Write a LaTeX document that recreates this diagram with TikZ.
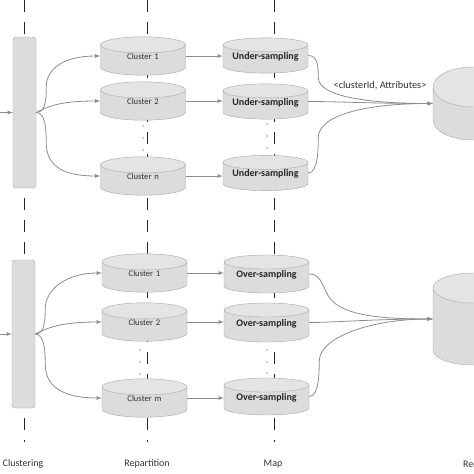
\documentclass[tikz,border=0pt]{standalone}
\usepackage{fontspec}
\setmainfont{Carlito}
\usepackage{tikz}
\usetikzlibrary{shapes.geometric}
\definecolor{linegray}{HTML}{8C8C8C}
\definecolor{edgegray}{HTML}{A6A6A6}
\definecolor{bodygray}{HTML}{DCDCDC}
\definecolor{topgray}{HTML}{E4E4E4}
\definecolor{textgray}{HTML}{333333}
\tikzstyle{store}=[cylinder, shape border rotate=90, anchor=shape center, draw=edgegray, cylinder uses custom fill, cylinder end fill=topgray, cylinder body fill=bodygray, inner sep=0pt, text width=85pt, align=center, text=textgray]
\tikzstyle{cstore}=[store, aspect=0.19, text height=6pt, text depth=8pt, font=\fontsize{8.6}{10}\selectfont]
\tikzstyle{mstore}=[store, aspect=0.165, text height=7pt, text depth=7pt, font=\bfseries\fontsize{10}{12}\selectfont, text=black!85]
\tikzstyle{rstore}=[store, text width=80pt, aspect=0.5]
\tikzstyle{stage}=[draw=edgegray, fill=bodygray, rounded corners=3pt, minimum width=23pt]
\tikzstyle{flow}=[draw=linegray, line width=0.8pt, -latex]
\tikzstyle{phase}=[draw=black!85, line width=1pt, dash pattern=on 12pt off 10pt]
\tikzstyle{caption}=[font=\fontsize{10}{12}\selectfont, text=textgray]

\begin{document}
\begin{tikzpicture}[x=1pt, y=-1pt]
        \useasboundingbox (0,0) rectangle (474,474);
        \clip (0,0) rectangle (474,474);
        % phase lines
        \draw[phase] (24,0) -- (24,442);
        \draw[phase] (147,0) -- (147,442);
        \draw[phase] (274,0) -- (274,442);
        % under-sampling branch
        \node[stage, minimum height=151pt] (clu) at (24.5, 112.5) {};
        \node[cstore, minimum height=37pt] (c1) at (143, 56) {Cluster 1};
        \node[cstore, minimum height=36pt] (c2) at (143, 101) {Cluster 2};
        \node[cstore, minimum height=37pt] (cn) at (143, 176) {Cluster n};
        \node[mstore, minimum height=27pt] (u1) at (265.5, 55.5) {Under-sampling};
        \node[mstore, minimum height=27pt] (u2) at (265.5, 101.5) {Under-sampling};
        \node[mstore, minimum height=28pt] (u3) at (265.5, 173) {Under-sampling};
        \node[rstore, minimum height=73pt] (r1) at (473, 103.5) {};
        \node[caption, font=\fontsize{10.3}{12}\selectfont] (kv) at (380, 86) {\textless clusterId, Attributes\textgreater};
        \coordinate (in1) at (0, 112.5);
        \draw[flow] (in1) -- (clu.west);
        \draw[flow] (clu.east) .. controls +(10,0) and +(0,10) .. ++(10,-25) .. controls +(0,-20) and +(-35,0) .. (c1.shape center -| c1.west);
        \draw[flow] (clu.east) .. controls +(15,-8) and +(-35,0) .. (c2.shape center -| c2.west);
        \draw[flow] (clu.east) .. controls +(10,0) and +(0,-10) .. ++(10,30) .. controls +(0,25) and +(-35,0) .. (cn.shape center -| cn.west);
        \draw[flow] (c1.shape center -| c1.east) -- (c1.shape center -| u1.west);
        \draw[flow] (c2.shape center -| c2.east) -- (c2.shape center -| u2.west);
        \draw[flow] (cn.shape center -| cn.east) -- (cn.shape center -| u3.west);
        \draw[flow] (u1.shape center -| u1.east) .. controls +(10,0) and +(0,-10) .. ++(10,22) .. controls +(0,20) and +(-60,0) .. (r1.shape center -| r1.west);
        \draw[flow] (u2.shape center -| u2.east) .. controls +(30,0) and +(-60,0) .. (r1.shape center -| r1.west);
        \draw[flow] (u3.shape center -| u3.east) .. controls +(10,0) and +(0,10) .. ++(10,-35) .. controls +(0,-25) and +(-60,0) .. (r1.shape center -| r1.west);
        \foreach \y in {126,138,150} \fill[textgray] (143,\y) circle[radius=0.7pt];
        \foreach \y in {124,136,148} \fill[textgray] (267,\y) circle[radius=0.7pt];
        % over-sampling branch
        \node[stage, minimum height=148pt] (clu2) at (23.5, 334) {};
        \node[cstore, minimum height=30pt] (d1) at (144.5, 273) {Cluster 1};
        \node[cstore, minimum height=30pt] (d2) at (144.5, 322) {Cluster 2};
        \node[cstore, minimum height=30pt] (dm) at (144.5, 398) {Cluster m};
        \node[mstore, minimum height=38pt] (o1) at (266.5, 274) {Over-sampling};
        \node[mstore, minimum height=39pt] (o2) at (266.5, 322.5) {Over-sampling};
        \node[mstore, minimum height=37pt] (o3) at (266.5, 396.5) {Over-sampling};
        \node[rstore, minimum height=92pt, aspect=0.375] (r2) at (473, 319) {};
        \coordinate (in2) at (0, 334);
        \draw[flow] (in2) -- (clu2.west);
        \draw[flow] (clu2.east) .. controls +(10,0) and +(0,10) .. ++(10,-25) .. controls +(0,-20) and +(-35,0) .. (d1.shape center -| d1.west);
        \draw[flow] (clu2.east) .. controls +(15,-8) and +(-35,0) .. (d2.shape center -| d2.west);
        \draw[flow] (clu2.east) .. controls +(10,0) and +(0,-10) .. ++(10,30) .. controls +(0,25) and +(-35,0) .. (dm.shape center -| dm.west);
        \draw[flow] (d1.shape center -| d1.east) -- (d1.shape center -| o1.west);
        \draw[flow] (d2.shape center -| d2.east) -- (d2.shape center -| o2.west);
        \draw[flow] (dm.shape center -| dm.east) -- (dm.shape center -| o3.west);
        \draw[flow] (o1.shape center -| o1.east) .. controls +(10,0) and +(-6,-12) .. ++(18,20) .. controls +(10,20) and +(-60,0) .. (r2.shape center -| r2.west);
        \draw[flow] (o2.shape center -| o2.east) .. controls +(25,0) and +(-60,0) .. (r2.shape center -| r2.west);
        \draw[flow] (o3.shape center -| o3.east) .. controls +(10,0) and +(0,10) .. ++(10,-35) .. controls +(0,-25) and +(-60,0) .. (r2.shape center -| r2.west);
        \foreach \y in {350,362,374} \fill[textgray] (140,\y) circle[radius=0.7pt];
        \foreach \y in {350,362,373} \fill[textgray] (267,\y) circle[radius=0.7pt];
        % stage names
        \node[caption] (lclu) at (23, 464) {Clustering};
        \node[caption] (lrep) at (147, 464) {Repartition};
        \node[caption] (lmap) at (273, 464) {Map};
        \node[caption] (lred) at (478, 464) {Reduce};
    \end{tikzpicture}
\end{document}
